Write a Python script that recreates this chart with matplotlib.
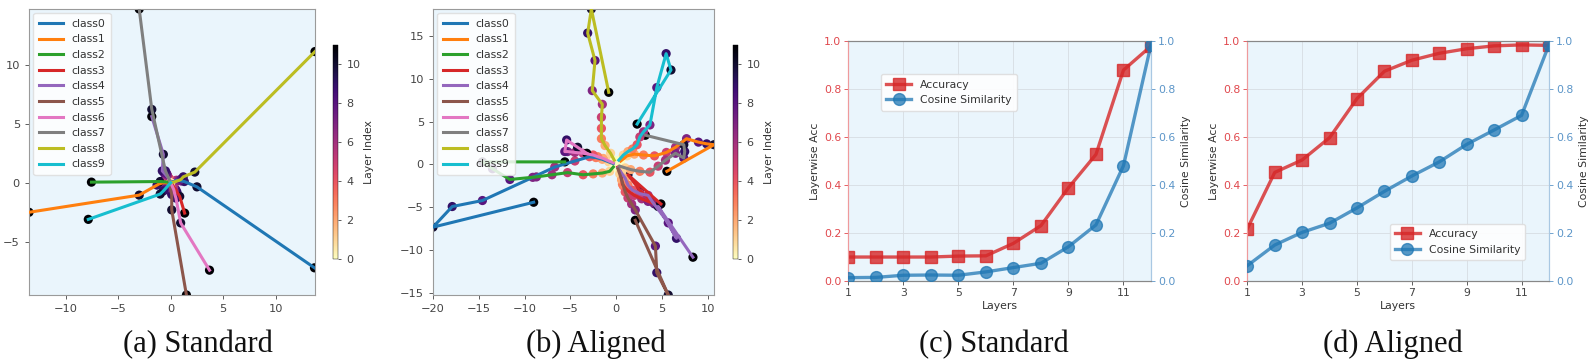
import numpy as np
import matplotlib
matplotlib.use("Agg")
import matplotlib.pyplot as plt
from matplotlib.colors import Normalize

# ---------------- data ----------------
layers_idx = list(range(12))          # layer index 0..11 for trajectories
class_names = [f"class{i}" for i in range(10)]

# Panel (a) Standard: per-class 2D trajectories (x, y) for layers 0..11
std_x = [
    [0.0, 0.1, 0.2, 0.3, 0.4, 0.5, 0.6, 0.8, 1.0, 1.3, 2.5, 13.7],
    [0.0, -0.1, -0.2, -0.3, -0.4, -0.5, -0.7, -0.9, -1.1, -1.3, -3.0, -13.5],
    [0.0, -0.1, -0.2, -0.3, -0.4, -0.5, -0.6, -0.7, -0.8, -0.9, -1.0, -7.55],
    [0.0, 0.05, 0.1, 0.15, 0.2, 0.25, 0.3, 0.4, 0.5, 0.6, 0.86, 1.33],
    [0.0, -0.05, -0.1, -0.15, -0.2, -0.3, -0.4, -0.5, -0.6, -0.8, -0.7, -1.8],
    [0.0, 0.0, 0.0, 0.0, 0.0, 0.0, 0.0, 0.05, 0.05, 0.1, 0.1, 1.5],
    [0.0, 0.05, 0.1, 0.15, 0.2, 0.25, 0.3, 0.35, 0.4, 0.5, 0.95, 3.7],
    [0.0, -0.05, -0.1, -0.15, -0.2, -0.25, -0.3, -0.35, -0.4, -0.5, -1.8, -3.0],
    [0.0, 0.1, 0.2, 0.3, 0.4, 0.5, 0.6, 0.8, 1.0, 1.2, 2.3, 13.75],
    [0.0, -0.05, -0.1, -0.15, -0.2, -0.3, -0.4, -0.5, -0.6, -0.7, -1.0, -7.85],
]
std_y = [
    [0.0, 0.05, 0.1, 0.1, 0.15, 0.2, 0.2, 0.2, 0.15, 0.1, -0.35, -7.2],
    [0.0, -0.05, -0.05, -0.05, 0.0, 0.0, 0.0, -0.05, -0.1, -0.2, -1.05, -2.5],
    [0.0, 0.02, 0.04, 0.05, 0.06, 0.07, 0.08, 0.08, 0.09, 0.1, 0.1, 0.05],
    [0.0, -0.05, -0.1, -0.15, -0.2, -0.3, -0.4, -0.5, -0.6, -0.8, -1.16, -2.57],
    [0.0, 0.1, 0.2, 0.3, 0.4, 0.5, 0.6, 0.7, 0.8, 1.0, 2.4, 5.6],
    [0.0, -0.05, -0.1, -0.2, -0.3, -0.4, -0.5, -0.6, -0.8, -1.0, -2.3, -9.5],
    [0.0, -0.1, -0.2, -0.3, -0.4, -0.5, -0.6, -0.8, -1.0, -1.3, -3.4, -7.4],
    [0.0, 0.1, 0.2, 0.3, 0.4, 0.5, 0.6, 0.7, 0.8, 1.0, 6.2, 14.7],
    [0.0, 0.02, 0.04, 0.06, 0.08, 0.1, 0.15, 0.2, 0.3, 0.5, 0.9, 11.1],
    [0.0, -0.05, -0.1, -0.15, -0.2, -0.3, -0.4, -0.5, -0.6, -0.7, -0.96, -3.1],
]

# Panel (b) Aligned
ali_x = [
    [-0.3, -0.8, -1.5, -2.2, -2.9, -4.5, -6.7, -9.1, -14.6, -17.9, -20.0, -9.0],
    [0.5, 1.2, 2.0, 3.0, 4.2, 5.5, 6.5, 7.7, 9.0, 9.9, 10.7, 5.55],
    [-0.3, -0.7, -1.5, -2.5, -3.6, -5.3, -7.0, -8.7, -11.6, -13.5, -14.6, -5.6],
    [0.2, 0.5, 0.6, 0.7, 1.2, 2.0, 2.8, 3.5, 4.2, 2.6, 1.3, 4.9],
    [0.2, 0.6, 1.0, 1.3, 1.8, 2.6, 3.5, 4.0, 5.7, 6.6, 4.6, 8.4],
    [0.2, 0.4, 0.6, 0.8, 1.0, 1.3, 1.7, 2.1, 4.3, 4.45, 5.7, 2.1],
    [-0.3, -0.8, -1.4, -2.0, -2.5, -3.6, -4.5, -5.3, -5.6, -5.4, -4.2, -3.2],
    [0.4, 1.0, 1.6, 2.6, 3.7, 4.6, 5.4, 6.5, 7.4, 7.5, 7.4, 3.2],
    [-0.2, -0.6, -1.2, -1.6, -1.6, -1.6, -1.5, -2.6, -2.3, -3.1, -2.7, -0.8],
    [0.3, 0.8, 1.3, 1.8, 2.3, 2.6, 3.0, 3.7, 4.45, 5.47, 6.0, 2.3],
]
ali_y = [
    [0.1, 0.3, 0.6, 0.8, 0.9, 0.4, -0.3, -1.5, -4.2, -4.9, -7.3, -4.4],
    [0.4, 1.0, 1.2, 1.1, 1.0, 1.4, 2.0, 3.0, 2.6, 2.4, 2.3, -0.8],
    [-0.3, -0.8, -1.0, -1.1, -1.2, -0.95, -1.2, -1.45, -1.75, -0.5, 0.3, 0.3],
    [-0.3, -0.9, -1.6, -2.3, -3.0, -3.6, -4.0, -4.3, -4.6, -3.0, -1.2, -4.6],
    [-0.4, -1.0, -1.6, -2.4, -3.0, -3.4, -3.6, -4.4, -6.8, -8.6, -4.9, -10.8],
    [-0.5, -1.1, -1.8, -2.5, -3.2, -3.9, -4.6, -5.3, -9.5, -12.6, -15.2, -6.5],
    [0.2, 0.4, 0.7, 0.9, 1.1, 1.3, 1.4, 1.5, 1.5, 2.85, 2.0, 1.3],
    [-0.2, -0.4, -0.6, -0.8, -0.9, -0.2, 0.5, 1.3, 0.75, 1.5, 2.3, 3.4],
    [0.5, 1.3, 2.2, 3.0, 4.2, 5.5, 7.0, 8.6, 12.1, 15.3, 18.1, 8.4],
    [0.5, 1.1, 1.5, 1.8, 2.3, 3.2, 3.8, 4.6, 8.95, 12.9, 11.0, 4.7],
]

# Panels (c), (d)
layers = list(range(1, 13))
std_acc = [0.10, 0.10, 0.10, 0.10, 0.104, 0.105, 0.157, 0.231, 0.389, 0.528, 0.880, 0.980]
std_cos = [0.014, 0.015, 0.024, 0.025, 0.024, 0.038, 0.056, 0.074, 0.143, 0.234, 0.481, 0.986]
ali_acc = [0.218, 0.453, 0.505, 0.598, 0.761, 0.875, 0.921, 0.950, 0.969, 0.981, 0.985, 0.983]
ali_cos = [0.064, 0.150, 0.203, 0.241, 0.305, 0.374, 0.438, 0.497, 0.570, 0.630, 0.691, 0.986]

captions = ["(a) Standard", "(b) Aligned", "(c) Standard", "(d) Aligned"]

# ---------------- style ----------------
plt.rcParams['font.family'] = ['DejaVu Sans']
BG = '#eaf5fc'
TICKC = '#444444'
tab10 = plt.get_cmap('tab10')
cmap = plt.get_cmap('magma_r')
norm = Normalize(vmin=0, vmax=11)

W, H = 1592, 361
fig = plt.figure(figsize=(W / 100, H / 100), dpi=100)

def fr(x0, y0, x1, y1):
    return [x0 / W, 1 - y1 / H, (x1 - x0) / W, (y1 - y0) / H]


def traj_panel(rect, crect, xs, ys, xticks, yticks):
    ax = fig.add_axes(fr(*rect))
    ax.set_facecolor(BG)
    for i in range(10):
        ax.scatter(xs[i], ys[i], c=layers_idx, cmap=cmap, norm=norm, s=44,
                   zorder=2, linewidths=0)
    for i in range(10):
        ax.plot(xs[i], ys[i], color=tab10(i), lw=2.2, label=class_names[i], zorder=3)
    allx = np.concatenate([np.array(v) for v in xs])
    ally = np.concatenate([np.array(v) for v in ys])
    ax.set_xlim(allx.min(), allx.max())
    ax.set_ylim(ally.min(), ally.max())
    ax.set_xticks(xticks)
    ax.set_yticks(yticks)
    ax.tick_params(labelsize=8.2, colors=TICKC, length=3, width=0.6)
    for s in ax.spines.values():
        s.set_color('#9a9a9a')
        s.set_linewidth(0.8)
    leg = ax.legend(loc='upper left', fontsize=7.8, frameon=True, framealpha=0.85,
                    edgecolor='#dddddd', labelspacing=0.52, handlelength=2.2,
                    borderpad=0.5, borderaxespad=0.4)
    for t in leg.get_texts():
        t.set_color('#333333')
    cax = fig.add_axes(fr(*crect))
    sm = matplotlib.cm.ScalarMappable(norm=norm, cmap=cmap)
    cb = fig.colorbar(sm, cax=cax, ticks=[0, 2, 4, 6, 8, 10])
    cb.outline.set_linewidth(0.3)
    cb.ax.tick_params(labelsize=8, colors=TICKC, length=2.5, width=0.6)
    cb.set_label('Layer Index', fontsize=7.8, color='#333333', labelpad=3)
    return ax


traj_panel((29, 9, 315, 295), (333, 45, 338, 259), std_x, std_y,
           [-10, -5, 0, 5, 10], [-5, 0, 5, 10])
traj_panel((433, 9, 714, 295), (733, 45, 738, 259), ali_x, ali_y,
           [-20, -15, -10, -5, 0, 5, 10], [-15, -10, -5, 0, 5, 10, 15])

RED = '#d62728'
BLUE = '#1f77b4'
REDT = '#e0474c'
BLUET = '#5b95c8'


def acc_panel(rect, acc, cos, legloc, legbbox):
    ax = fig.add_axes(fr(*rect))
    ax.set_facecolor(BG)
    ax.grid(True, color='#d6dde2', lw=0.6)
    ax.set_axisbelow(True)
    l1, = ax.plot(layers, acc, color=RED, marker='s', ms=8, lw=2.4, alpha=0.8,
                  label='Accuracy', zorder=3)
    ax2 = ax.twinx()
    l2, = ax2.plot(layers, cos, color=BLUE, marker='o', ms=8.5, lw=2.4, alpha=0.75,
                   label='Cosine Similarity', zorder=3)
    ax.set_xlim(layers[0], layers[-1])
    ax.set_ylim(0, 1)
    ax2.set_ylim(0, 1)
    ax.set_xticks([1, 3, 5, 7, 9, 11])
    ax.set_yticks([0, 0.2, 0.4, 0.6, 0.8, 1.0])
    ax2.set_yticks([0, 0.2, 0.4, 0.6, 0.8, 1.0])
    ax.tick_params(axis='x', labelsize=7.8, colors=TICKC, length=3, width=0.6, pad=2)
    ax.tick_params(axis='y', labelsize=7.8, colors=REDT, length=3, width=0.6, pad=2)
    ax2.tick_params(axis='y', labelsize=7.8, colors=BLUET, length=3, width=0.6, pad=2)
    ax.set_xlabel('Layers', fontsize=7.8, color='#333333', labelpad=2)
    ax.set_ylabel('Layerwise Acc', fontsize=7.8, color='#333333', labelpad=3)
    ax2.set_ylabel('Cosine Similarity', fontsize=7.8, color='#333333', labelpad=4)
    for a in (ax, ax2):
        a.spines['top'].set_color('#888888')
        a.spines['bottom'].set_color('#888888')
        a.spines['left'].set_color('#ef9a9c')
        a.spines['right'].set_color('#a9c8e3')
        for s in a.spines.values():
            s.set_linewidth(0.8)
    leg = ax.legend([l1, l2], ['Accuracy', 'Cosine Similarity'], loc=legloc,
                    bbox_to_anchor=legbbox, fontsize=7.8, framealpha=0.9,
                    edgecolor='#dddddd', handlelength=2.3, borderpad=0.5)
    leg.set_zorder(5)
    for t in leg.get_texts():
        t.set_color('#333333')
    return ax


acc_panel((848.3, 41.3, 1151, 281), std_acc, std_cos, 'upper left', (0.09, 0.885))
acc_panel((1247.3, 41.3, 1549, 281), ali_acc, ali_cos, 'lower right', (0.94, 0.065))

cap_x = [197.5, 596, 994, 1393]
for cx, txt in zip(cap_x, captions):
    fig.text(cx / W, 1 - 352 / H, txt, ha='center', va='baseline',
             fontsize=22, family=['Liberation Serif', 'DejaVu Serif'], color='#111111')

fig.savefig('out.png', dpi=100, facecolor='white')
